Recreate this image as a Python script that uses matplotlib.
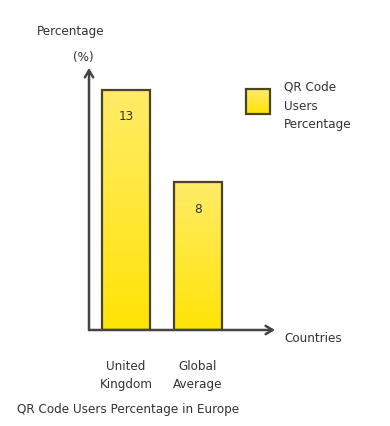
import numpy as np
import matplotlib; matplotlib.use("Agg")
import matplotlib.pyplot as plt
from matplotlib.patches import Rectangle

categories = ["United\nKingdom", "Global\nAverage"]
values = [13, 8]
series_name = "QR Code\nUsers\nPercentage"
title = "QR Code Users Percentage in Europe"

W, H = 390, 426
EDGE = "#4a4424"
AXC = "#444444"
TXT = "#333333"
FS = 8.65
grad = np.linspace(0, 1, 256).reshape(-1, 1)
cmap = matplotlib.colors.LinearSegmentedColormap.from_list("yl", ["#ffe406", "#ffec68"])

fig = plt.figure(figsize=(W / 100, H / 100), dpi=100)
# axes box in pixel terms: x 89..275, y 330..68 (from top)
ax = fig.add_axes([89 / W, (H - 330) / H, (275 - 89) / W, (330 - 68) / H])
ax.axis("off")

x = np.arange(len(values))
bars = ax.bar(x, values, width=0.667, facecolor="none", edgecolor=EDGE, linewidth=1.6, zorder=3)
for i, (b, v) in enumerate(zip(bars, values)):
    x0, w = b.get_x(), b.get_width()
    im = ax.imshow(grad, cmap=cmap, origin="lower", aspect="auto",
                   extent=[x0, x0 + w, 0, v], zorder=2)
    im.set_clip_path(b)
    ax.text(x0 + w / 2, v - 1.45, str(v), ha="center", va="center", fontsize=FS, color=TXT, zorder=4)
    ax.text(x0 + w / 2, -1.65, categories[i], ha="center", va="top", fontsize=FS,
            color=TXT, linespacing=1.5)
ax.set_xlim(-0.514, 2.069)
ax.set_ylim(0, 14.19)

# axes with arrow heads
for end in [(0, 1), (1, 0)]:
    ax.annotate("", xy=end, xytext=(0, 0), xycoords="axes fraction",
                arrowprops=dict(arrowstyle="->,head_length=0.5,head_width=0.3", color=AXC, lw=1.8,
                                shrinkA=0, shrinkB=0), annotation_clip=False)

fig.text(71 / W, 1 - 32 / H, "Percentage", ha="center", va="center", fontsize=FS, color=TXT)
fig.text(83 / W, 1 - 57 / H, "(%)", ha="center", va="center", fontsize=FS, color=TXT)
fig.text(284 / W, 1 - 338 / H, "Countries", ha="left", va="center", fontsize=FS, color=TXT)
fig.text(17 / W, 1 - 410 / H, title, ha="left", va="center", fontsize=FS, color=TXT)

# legend swatch
lax = fig.add_axes([246 / W, 1 - 114 / H, 24 / W, 25 / H])
lax.imshow(grad, cmap=cmap, origin="lower", aspect="auto", extent=[0, 1, 0, 1])
lax.add_patch(Rectangle((0, 0), 1, 1, facecolor="none", edgecolor=EDGE, lw=1.6,
                        transform=lax.transAxes, clip_on=False))
lax.axis("off")
fig.text(284 / W, 1 - 81 / H, series_name, ha="left", va="top", fontsize=FS, color=TXT, linespacing=1.55)

fig.savefig("out.png", dpi=100)
